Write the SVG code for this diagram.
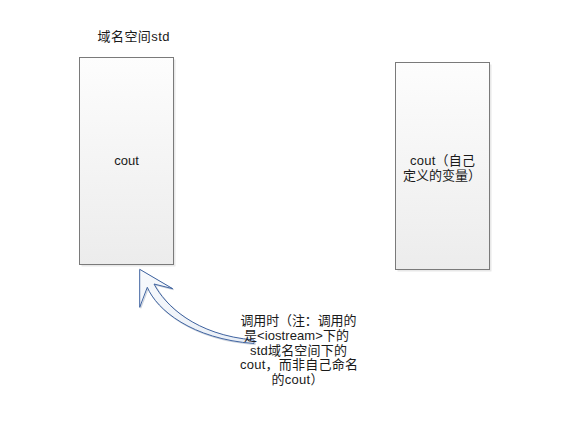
<svg xmlns="http://www.w3.org/2000/svg" width="585" height="424" viewBox="0 0 585 424">
  <defs>
    <linearGradient id="boxFill" x1="0" y1="0" x2="0" y2="1">
      <stop offset="0" stop-color="#fdfdfd"/>
      <stop offset="1" stop-color="#ececec"/>
    </linearGradient>
    <linearGradient id="arrowFill" x1="0" y1="0" x2="1" y2="1">
      <stop offset="0" stop-color="#f7f9fc"/>
      <stop offset="1" stop-color="#e8eef6"/>
    </linearGradient>
  </defs>
  <style>
    .box { fill: url(#boxFill); stroke: #7a7a7a; stroke-width: 1; }
    .shadow { fill: #d8d8d8; opacity: 0.6; }
    .t { font-family: "Liberation Sans", "Noto Sans CJK SC", sans-serif; font-size: 13px; fill: #1a1a1a; text-anchor: middle; }
    .arrow { fill: url(#arrowFill); stroke: #3f63a0; stroke-width: 1; stroke-linejoin: miter; }
    .arrowShadow { fill: none; stroke: #b9c2cf; stroke-width: 1.2; opacity: 0.7; }
  </style>
  <rect width="585" height="424" fill="#ffffff"/>

  <g id="title">
    <text class="t" x="133.5" y="41" textLength="72" lengthAdjust="spacing">域名空间std</text>
  </g>

  <g id="std-box">
    <rect class="shadow" x="81.5" y="59.5" width="94" height="207"/>
    <rect class="box" x="79.5" y="57.5" width="94" height="207"/>
    <text class="t" x="126.5" y="165">cout</text>
  </g>

  <g id="own-box">
    <rect class="shadow" x="397.5" y="64.5" width="94" height="207"/>
    <rect class="box" x="395.5" y="62.5" width="94" height="207"/>
    <text class="t" x="442.5" y="165" textLength="65" lengthAdjust="spacing">cout（自己</text>
    <text class="t" x="442" y="180">定义的变量）</text>
  </g>

  <g id="connectors">
    <path class="arrowShadow" d="M140.7,270.3 L173.7,289.7 L155,285 C166,306 196,336 255,341 L255,344.5 C193,340 158,311 148.3,288.3 L140.7,308.3 Z"/>
    <path class="arrow" d="M139.7,269.3 L172.7,288.7 L154,284 C165,305 195,335 254,340 L254,343.5 C192,339 157,310 147.3,287.3 L139.7,307.3 Z"/>
  </g>

  <g id="note">
    <text class="t" x="298.5" y="325" textLength="116" lengthAdjust="spacing">调用时（注：调用的</text>
    <text class="t" x="296.5" y="339.8" textLength="105" lengthAdjust="spacing">是&lt;iostream&gt;下的</text>
    <text class="t" x="298.5" y="354.6" textLength="97" lengthAdjust="spacing">std域名空间下的</text>
    <text class="t" x="299" y="369.4" textLength="118" lengthAdjust="spacing">cout，而非自己命名</text>
    <text class="t" x="297.5" y="384.2" textLength="52" lengthAdjust="spacing">的cout）</text>
  </g>
</svg>
